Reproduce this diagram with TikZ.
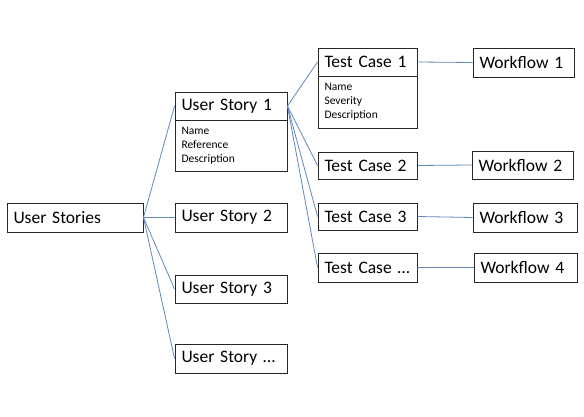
\documentclass[tikz,border=0pt]{standalone}
\usepackage{fontspec}
\setmainfont{Carlito}
\begin{document}
\begin{tikzpicture}[x=1pt,y=-1pt,
  box/.style={draw=black!85, line width=0.9pt, fill=white, inner xsep=6.5pt, inner ysep=0pt, align=left, font=\fontsize{17.5}{20}\selectfont},
  attr/.style={draw=black!85, line width=0.9pt, fill=white, inner xsep=6.5pt, inner ysep=0pt, align=left, font=\fontsize{11.5}{14}\selectfont},
  link/.style={draw={rgb,255:red,95;green,135;blue,190}, line width=0.8pt}]
\useasboundingbox (0,0) rectangle (584,417);
% links first (behind boxes)
\node[box, minimum width=136pt, minimum height=29pt, text width=123pt] (us) at (75,217.5) {User Stories};
\node[box, minimum width=112pt, minimum height=28pt, text width=99pt] (us1) at (231,106) {User Story 1};
\node[attr, minimum width=112pt, minimum height=51pt, text width=99pt] (us1a) at (231,145.5) {Name\\Reference\\Description};
\node[box, minimum width=112pt, minimum height=29pt, text width=99pt] (us2) at (231,217.5) {User Story 2};
\node[box, minimum width=112pt, minimum height=28pt, text width=99pt] (us3) at (231,289) {User Story 3};
\node[box, minimum width=112pt, minimum height=29pt, text width=99pt] (us4) at (231,358.5) {User Story \dots};
\node[box, minimum width=99pt, minimum height=28pt, text width=86pt] (tc1) at (367.5,62) {Test Case 1};
\node[attr, minimum width=99pt, minimum height=52pt, text width=86pt] (tc1a) at (367.5,102) {Name\\Severity\\Description};
\node[box, minimum width=99pt, minimum height=27pt, text width=86pt] (tc2) at (367.5,165.5) {Test Case 2};
\node[box, minimum width=99pt, minimum height=27pt, text width=86pt] (tc3) at (367.5,216.5) {Test Case 3};
\node[box, minimum width=99pt, minimum height=29pt, text width=86pt] (tc4) at (367.5,267.5) {Test Case \dots};
\node[box, minimum width=101pt, minimum height=29pt, text width=88pt] (wf1) at (523.5,62.5) {Workflow 1};
\node[box, minimum width=101pt, minimum height=28pt, text width=88pt] (wf2) at (522.5,165) {Workflow 2};
\node[box, minimum width=104pt, minimum height=29pt, text width=91pt] (wf3) at (525,217.5) {Workflow 3};
\node[box, minimum width=103pt, minimum height=29pt, text width=90pt] (wf4) at (525.5,267.5) {Workflow 4};
\draw[link] (us.east) -- (us1.west);
\draw[link] (us.east) -- (us2.west);
\draw[link] (us.east) -- (us3.west);
\draw[link] (us.east) -- (us4.west);
\draw[link] (us1.east) -- (tc1.west);
\draw[link] (us1.east) -- (tc2.west);
\draw[link] (us1.east) -- (tc3.west);
\draw[link] (us1.east) -- (tc4.west);
\draw[link] (tc1.east) -- (wf1.west);
\draw[link] (tc2.east) -- (wf2.west);
\draw[link] (tc3.east) -- (wf3.west);
\draw[link] (tc4.east) -- (wf4.west);
\end{tikzpicture}
\end{document}
